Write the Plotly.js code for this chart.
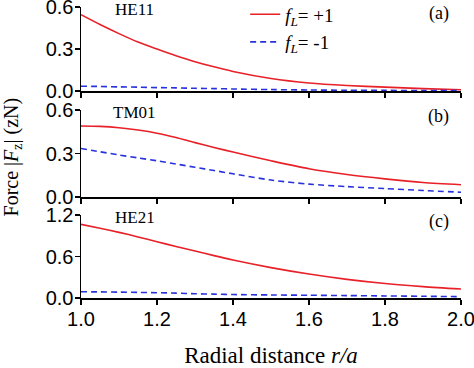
<!DOCTYPE html>
<html>
<head>
<meta charset="utf-8">
<script src="https://cdn.plot.ly/plotly-3.0.1.min.js"></script>
<style>body{margin:0;padding:0;background:#fff}#chart{width:474px;height:368px}</style>
</head>
<body>
<div id="chart"></div>
<script>
// Radial distance r/a
const r = [1.0, 1.05, 1.1, 1.15, 1.2, 1.25, 1.3, 1.35, 1.4, 1.5, 1.6, 1.7, 1.8, 1.9, 2.0];
// (a) HE11
const he11Plus = [0.545, 0.475, 0.41, 0.35, 0.30, 0.253, 0.21, 0.173, 0.14, 0.09, 0.058, 0.04, 0.028, 0.018, 0.01];
const he11Minus = [0.035, 0.033, 0.03, 0.028, 0.025, 0.023, 0.02, 0.018, 0.015, 0.011, 0.008, 0.006, 0.005, 0.004, 0.003];
// (b) TM01
const tm01Plus = [0.49, 0.487, 0.478, 0.462, 0.44, 0.41, 0.375, 0.342, 0.31, 0.25, 0.195, 0.155, 0.125, 0.10, 0.085];
const tm01Minus = [0.335, 0.312, 0.29, 0.27, 0.25, 0.228, 0.205, 0.183, 0.16, 0.117, 0.089, 0.072, 0.058, 0.045, 0.033];
// (c) HE21
const he21Plus = [1.066, 1.01, 0.95, 0.884, 0.814, 0.746, 0.68, 0.613, 0.55, 0.44, 0.347, 0.27, 0.21, 0.165, 0.13];
const he21Minus = [0.09, 0.088, 0.085, 0.081, 0.077, 0.07, 0.062, 0.056, 0.05, 0.044, 0.04, 0.035, 0.03, 0.025, 0.02];

const modeNames = ['HE11', 'TM01', 'HE21'];
const panelTags = ['(a)', '(b)', '(c)'];
const legendNames = ['<i>f</i><sub><i>L</i></sub>= +1', '<i>f</i><sub><i>L</i></sub>= -1'];
const yTicks = [[0, 0.3, 0.6], [0, 0.3, 0.6], [0, 0.6, 1.2]];
const xTicks = [1.0, 1.2, 1.4, 1.6, 1.8, 2.0];

const RED = 'rgb(232,32,40)';
const BLUE = 'rgb(40,50,220)';
const SERIF = 'Liberation Serif, Times New Roman, serif';
const SANS = 'Liberation Sans, Arial, sans-serif';

const plusSets = [he11Plus, tm01Plus, he21Plus];
const minusSets = [he11Minus, tm01Minus, he21Minus];
const axSuffix = ['', '2', '3'];

const data = [];
for (let i = 0; i < 3; i++) {
  data.push({x: r, y: plusSets[i], type: 'scatter', mode: 'lines', line: {color: RED, width: 1.6, shape: 'spline', smoothing: 0.8},
    name: legendNames[0], showlegend: i === 0, xaxis: 'x' + axSuffix[i], yaxis: 'y' + axSuffix[i]});
  data.push({x: r, y: minusSets[i], type: 'scatter', mode: 'lines', line: {color: BLUE, width: 1.6, dash: '6px,4px', shape: 'spline', smoothing: 0.8},
    name: legendNames[1], showlegend: i === 0, xaxis: 'x' + axSuffix[i], yaxis: 'y' + axSuffix[i]});
}

const domains = [[0.711, 1.0], [0.347, 0.646], [0.0, 0.285]];
const yRanges = [[0, 0.6], [0, 0.6], [0, 1.2]];

const layout = {
  width: 474, height: 368,
  margin: {l: 81, r: 13, t: 7, b: 70, autoexpand: false},
  paper_bgcolor: '#fff', plot_bgcolor: '#fff',
  showlegend: true,
  legend: {x: 0.432, y: 1.04, xanchor: 'left', yanchor: 'top', bgcolor: 'rgba(0,0,0,0)',
    font: {family: SERIF, size: 19, color: '#000'}, tracegroupgap: 0},
  annotations: [],
};

for (let i = 0; i < 3; i++) {
  const xa = {
    domain: [0, 1], range: [1.0, 2.0], anchor: 'y' + axSuffix[i],
    showline: true, linecolor: '#000', linewidth: 1.5, mirror: false,
    ticks: 'outside', ticklen: 5, tickwidth: 1.3, tickcolor: '#000',
    tickvals: xTicks, showgrid: false, zeroline: false, automargin: false,
    showticklabels: i === 2, tickformat: '.1f', ticklabeloverflow: 'allow', ticklabelstandoff: -3,
    tickfont: {family: SANS, size: 20, color: '#000'},
  };
  if (i > 0) xa.matches = 'x';
  if (i === 2) xa.title = {text: 'Radial distance <i>r/a</i>', font: {family: SERIF, size: 23, color: '#000'}, standoff: 20};
  const ya = {
    domain: domains[i], range: yRanges[i], anchor: 'x' + axSuffix[i],
    showline: true, linecolor: '#000', linewidth: 1.5,
    ticks: 'outside', ticklen: 5, tickwidth: 1.3, tickcolor: '#000',
    tickvals: yTicks[i], tickformat: '.1f', showgrid: false, zeroline: false,
    ticklabeloverflow: 'allow', automargin: false, ticklabelstandoff: -3,
    tickfont: {family: SANS, size: 20, color: '#000'},
  };
  layout['xaxis' + axSuffix[i]] = xa;
  layout['yaxis' + axSuffix[i]] = ya;

  layout.annotations.push({text: modeNames[i], xref: 'paper', yref: 'paper', x: 0.141, y: domains[i][1],
    xanchor: 'center', yanchor: 'middle', showarrow: false, font: {family: SERIF, size: 17, color: '#000'}, yshift: -2});
  layout.annotations.push({text: panelTags[i], xref: 'paper', yref: 'paper', x: 0.942, y: domains[i][1],
    xanchor: 'center', yanchor: 'middle', showarrow: false, font: {family: SERIF, size: 18, color: '#000'}, yshift: -6});
}

layout.annotations.push({text: 'Force |<i>F</i><sub>z</sub>| (zN)', xref: 'paper', yref: 'paper', x: -0.18, y: 0.485,
  xanchor: 'center', yanchor: 'middle', textangle: -90, showarrow: false, font: {family: SERIF, size: 20, color: '#000'}});

Plotly.newPlot('chart', data, layout, {displayModeBar: false, staticPlot: true});
</script>
</body>
</html>
